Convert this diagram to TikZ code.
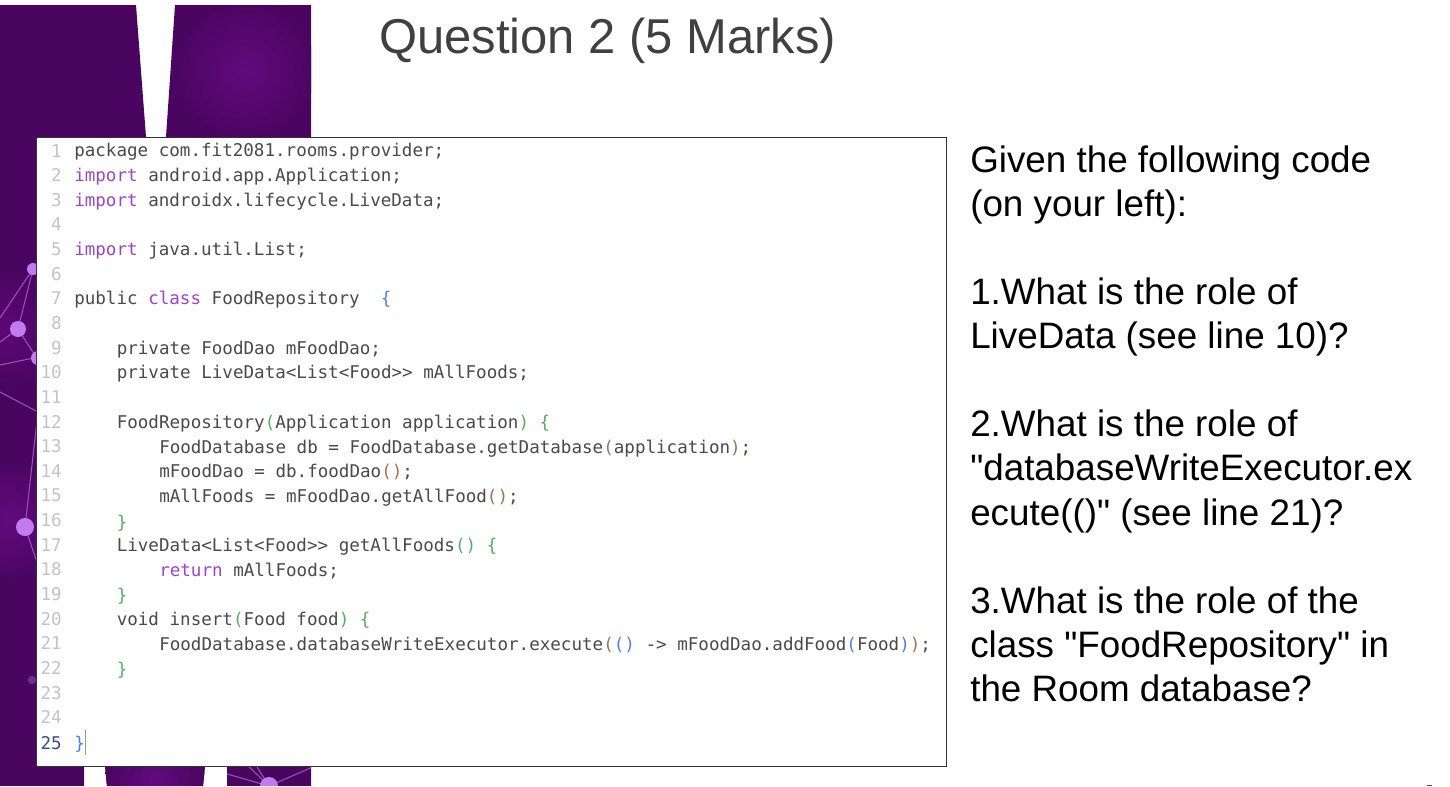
\documentclass[tikz,border=0pt]{standalone}
\usepackage{fontspec}
\setmainfont{Liberation Sans}
\newfontfamily\askfont{Liberation Sans}
\setmonofont{DejaVu Sans Mono}
\definecolor{plum}{HTML}{4A0560}
\definecolor{plumlight}{HTML}{620A7E}
\definecolor{dotpink}{HTML}{C27BEF}
\definecolor{linkpink}{HTML}{9A50B8}
\definecolor{codegrey}{HTML}{4A4A4A}
\definecolor{numgrey}{HTML}{C4C4C4}
\definecolor{kwpurple}{HTML}{9A45D2}
\definecolor{brgreen}{HTML}{55AE63}
\definecolor{brbrown}{HTML}{A8704E}
\definecolor{brblue}{HTML}{4A7FEE}
\definecolor{numblue}{HTML}{3A4C8E}
\newcommand{\kw}[1]{\textcolor{kwpurple}{#1}}
\newcommand{\gr}[1]{\textcolor{brgreen}{#1}}
\newcommand{\br}[1]{\textcolor{brbrown}{#1}}
\newcommand{\bl}[1]{\textcolor{brblue}{#1}}
\tikzset{
	codetxt/.style={anchor=base west,inner sep=0pt,text=codegrey,font=\fontsize{13.17}{15}\selectfont\ttfamily},
	numtxt/.style={anchor=base east,inner sep=0pt,text=numgrey,font=\fontsize{13.17}{15}\selectfont\ttfamily},
	asktxt/.style={anchor=base west,inner sep=0pt,text=black,font=\fontsize{27.6}{30}\selectfont\askfont},
	link/.style={linkpink,line width=0.8pt},
	dot/.style={fill=dotpink}
}
\begin{document}
\begin{tikzpicture}[x=0.75pt,y=-0.75pt]
	\useasboundingbox (0,0) rectangle (1450,786);
	\fill[white] (0,0) rectangle (1450,786);
	% purple strip behind the code
	\begin{scope}
		\clip (0,5)--(136,5)--(146,137)--(166,137)--(175,5)--(311,5)--(311,137)--(36,137)--(36,767)--(84,767)--(84,786)--(0,786)--cycle
		(105,767)--(205,767)--(203,786)--(107,786)--cycle
		(227,767)--(311,767)--(311,786)--(227,786)--cycle;
		\fill[plum] (0,0) rectangle (320,786);
		\shade[inner color=plumlight,outer color=plum] (245,70) circle (70);
		\shade[inner color=plumlight,outer color=plum] (10,520) circle (60);
		\shade[inner color=plumlight,outer color=plum] (155,780) circle (50);
		\shade[inner color=plumlight!70!plum,outer color=plum] (5,330) circle (60);
		\draw[link] (33,269)--(18,329)--(38,360) (33,269)--(0,318) (18,329)--(0,342) (0,365)--(38,357)
		(0,392)--(38,412)--(25,527)--(38,565) (269,786)--(244,762) (269,786)--(254,762) (269,786)--(315,766) (269,786)--(227,774);
		\fill[dot] (33,269) circle (6) (38,358) circle (7);
		\fill[dot] (18,329) circle (8);
		\fill[dot] (25,527) circle (9);
		\fill[dotpink!35!plum] (32,680) circle (4);
		\fill[dot] (269,786) circle (9);
	\end{scope}
	\draw[line width=1pt,black!80,fill=white] (36.5,137.5) rectangle (946.5,766.5);
	% line numbers
	\foreach \n in {1,...,24}
		\node[numtxt] (num\n) at (62,{157+24.64*(\n-1)}) {\n};
	\node[numtxt,text=numblue] (num25) at (62,749.4) {25};
	% code
	\node[codetxt] (code1) at (74,156.5) {package com.fit2081.rooms.provider;};
	\node[codetxt] (code2) at (74,181.6) {\kw{import} android.app.Application;};
	\node[codetxt] (code3) at (74,206.3) {\kw{import} androidx.lifecycle.LiveData;};
	\node[codetxt] (code5) at (74,255.6) {\kw{import} java.util.List;};
	\node[codetxt] (code7) at (74,304.8) {public \kw{class} FoodRepository\ \ \bl{\{}};
	\node[codetxt] (code9) at (116.5,354.1) {private FoodDao mFoodDao;};
	\node[codetxt] (code10) at (116.5,378.8) {private LiveData<List<Food>{}> mAllFoods;};
	\node[codetxt] (code12) at (116.5,428) {FoodRepository\gr{(}Application application\gr{)} \gr{\{}};
	\node[codetxt] (code13) at (159,453) {FoodDatabase db = FoodDatabase.getDatabase\br{(}application\br{)};};
	\node[codetxt] (code14) at (159,477.3) {mFoodDao = db.foodDao\br{()};};
	\node[codetxt] (code15) at (159,502) {mAllFoods = mFoodDao.getAllFood\br{()};};
	\node[codetxt] (code16) at (116.5,528) {\gr{\}}};
	\node[codetxt] (code17) at (116.5,551.2) {LiveData<List<Food>{}> getAllFoods\gr{()} \gr{\{}};
	\node[codetxt] (code18) at (159,576.5) {\kw{return} mAllFoods;};
	\node[codetxt] (code19) at (116.5,601.5) {\gr{\}}};
	\node[codetxt] (code20) at (116.5,625.2) {void insert\gr{(}Food food\gr{)} \gr{\{}};
	\node[codetxt] (code21) at (159,650.3) {FoodDatabase.databaseWriteExecutor.execute\br{(}\bl{()} -> mFoodDao.addFood\bl{(}Food\bl{)}\br{)};};
	\node[codetxt] (code22) at (116.5,675.5) {\gr{\}}};
	\node[codetxt] (code25) at (74,749.4) {\bl{\}}};
	\draw[black!40,line width=0.7pt] (85,730)--(85,755);
	% title and questions
	\node[anchor=base west,inner sep=0pt,text=black!75,font=\fontsize{36.7}{40}\selectfont\askfont] (title) at (379,53) {Question 2 (5 Marks)};
	\node[asktxt] (ask1) at (970,172) {Given the following code};
	\node[asktxt] (ask2) at (970,216) {(on your left):};
	\node[asktxt] (ask3) at (970,304) {1.What is the role of};
	\node[asktxt] (ask4) at (970,348) {LiveData (see line 10)?};
	\node[asktxt] (ask5) at (970,436) {2.What is the role of};
	\node[asktxt] (ask6) at (970,480) {"databaseWriteExecutor.ex};
	\node[asktxt] (ask7) at (970,525) {ecute(()" (see line 21)?};
	\node[asktxt] (ask8) at (970,613) {3.What is the role of the};
	\node[asktxt] (ask9) at (970,657) {class "FoodRepository" in};
	\node[asktxt] (ask10) at (970,701) {the Room database?};
	% sliver of the page number at the lower edge
	\draw[black!70,line width=0.8pt] (1427,785.5)--(1432,785.5);
\end{tikzpicture}
\end{document}
